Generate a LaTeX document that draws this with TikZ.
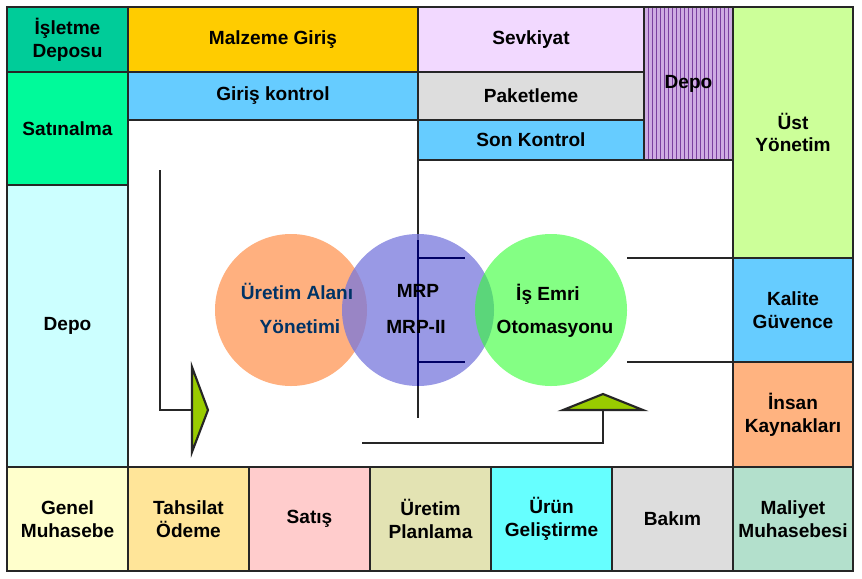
\documentclass[tikz,border=0pt]{standalone}
\usepackage{fontspec}
\setmainfont{Liberation Sans}
\usetikzlibrary{patterns}
\definecolor{cTeal}{HTML}{00CC99}
\definecolor{cYel}{HTML}{FFCC00}
\definecolor{cLav}{HTML}{F2D9FF}
\definecolor{cPur}{HTML}{7A3FA0}
\definecolor{cLime}{HTML}{CCFF99}
\definecolor{cSat}{HTML}{00FA9A}
\definecolor{cSky}{HTML}{66CCFF}
\definecolor{cGry}{HTML}{DDDDDD}
\definecolor{cIce}{HTML}{CCFFFF}
\definecolor{cSal}{HTML}{FFB380}
\definecolor{cCrm}{HTML}{FFFFCC}
\definecolor{cTan}{HTML}{FFE599}
\definecolor{cPnk}{HTML}{FFCCCC}
\definecolor{cOli}{HTML}{E3E3B3}
\definecolor{cCya}{HTML}{66FFFF}
\definecolor{cMnt}{HTML}{B3E0CC}
\definecolor{cArr}{HTML}{99CC00}
\definecolor{cNavy}{HTML}{003366}
\definecolor{cOrC}{HTML}{FFB07F}
\definecolor{cBlC}{HTML}{7777DD}
\definecolor{cGrC}{HTML}{33FF33}
\tikzset{box/.style={draw=black!85,line width=1.6pt},
 lbl/.style={font=\fontsize{14.3}{17}\selectfont\bfseries,align=center,inner sep=0pt},
 conn/.style={draw=black!85,line width=1.8pt},
 tick/.style={draw=black!60!blue,line width=1.8pt},
 tri/.style={fill=cArr,draw=black!85,line width=1.6pt,line join=miter}}
\newcommand{\bx}[5]{\draw[box,fill=#4] (#2) rectangle (#3) node[midway,lbl] (#1) {#5};}
\begin{document}
\begin{tikzpicture}[x=0.75pt,y=-0.75pt]
\useasboundingbox[fill=white] (0,0) rectangle (862,578);
\bx{isl}{7,7}{128,72}{cTeal}{İşletme\\Deposu}
\bx{malz}{128,7}{418,72}{cYel}{Malzeme Giriş}
\bx{sevk}{418,7}{644,72}{cLav}{Sevkiyat}
\draw[box,fill=cLav!70!cPur] (644,7) rectangle (733,160);
\fill[pattern=vertical lines,pattern color=cPur] (644,7) rectangle (733,160);
\draw[box] (644,7) rectangle (733,160);
\node[lbl] (depo2) at (688.5,84) {Depo};
\bx{ust}{733,7}{853,258}{cLime}{Üst\\Yönetim}
\bx{sat}{7,72}{128,185}{cSat}{Satınalma}
\bx{gk}{128,72}{418,120}{cSky}{Giriş kontrol}
\bx{pak}{418,72}{644,120}{cGry}{Paketleme}
\bx{son}{418,120}{644,160}{cSky}{Son Kontrol}
\bx{depo1}{7,185}{128,467}{cIce}{Depo}
\bx{kal}{733,258}{853,362}{cSky}{Kalite\\Güvence}
\bx{ins}{733,362}{853,467}{cSal}{İnsan\\Kaynakları}
\bx{gen}{7,467}{128,571}{cCrm}{Genel\\Muhasebe}
\bx{tah}{128,467}{249,571}{cTan}{Tahsilat\\Ödeme}
\bx{sts}{249,467}{370,571}{cPnk}{Satış}
\bx{upl}{370,467}{491,571}{cOli}{Üretim\\Planlama}
\bx{urg}{491,467}{612,571}{cCya}{Ürün\\Geliştirme}
\bx{bak}{612,467}{733,571}{cGry}{Bakım}
\bx{mal}{733,467}{853,571}{cMnt}{Maliyet\\Muhasebesi}
\draw[draw=black!85,line width=2pt] (7,7) rectangle (853,571);
% connectors
\coordinate (v1) at (418,160); \coordinate (v2) at (418,418);
\draw[conn] (v1) -- (v2);
\draw[conn] (627,258) -- (733,258);
\draw[conn] (627,362) -- (733,362);
\draw[conn] (160,170) -- (160,410) -- (192,410);
\draw[conn] (362,443) -- (603,443) -- (603,410);
\draw[tri] (192,367) -- (208,410) -- (192,452) -- cycle;
\draw[tri] (563,410) -- (603,394) -- (643,410) -- cycle;
% circles
\fill[fill=cOrC] (291,310) circle[radius=76];
\fill[fill=cBlC,fill opacity=0.75] (418,310) circle[radius=76];
\fill[fill=cGrC,fill opacity=0.6] (551,310) circle[radius=76];
\draw[tick] (418,240) -- (418,258) -- (465,258);
\draw[tick] (418,345) -- (418,362) -- (465,362);
\draw[tick] (418,258) -- (418,345);
\draw[tick] (418,362) -- (418,386);
\node[lbl,text=cNavy] (u1) at (297,291) {Üretim Alanı};
\node[lbl,text=cNavy] (u2) at (300,327) {Yönetimi};
\node[lbl] (m1) at (418,291) {MRP};
\node[lbl] (m2) at (416,327) {MRP-II};
\node[lbl] (i1) at (548,294) {İş Emri};
\node[lbl] (i2) at (555,329) {Otomasyonu};
\end{tikzpicture}
\end{document}
